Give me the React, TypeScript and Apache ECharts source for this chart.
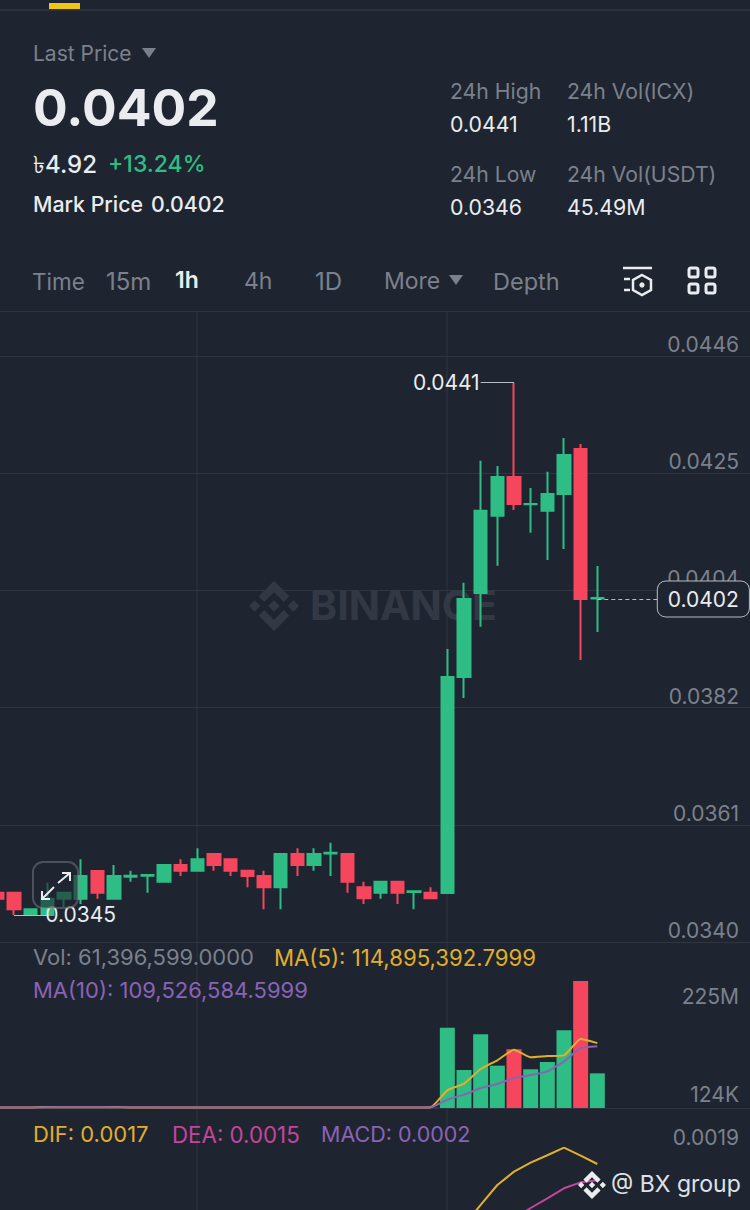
import React, { useEffect, useRef } from "react";
import * as echarts from "echarts";

const BG = "#1f2530";
const UP = "#2EBD85";
const DOWN = "#F6465D";
const GRIDLINE = "#30353f";
const MUTED = "#7b818c";
const LIGHT = "#eaecef";
const FONT = "Inter, 'Noto Sans', 'DejaVu Sans', sans-serif";

// [open, close, low, high]
const candles: number[][] = [
  [0.034894, 0.034785, 0.034785, 0.034894],
  [0.034894, 0.034593, 0.03449, 0.034894],
  [0.03449, 0.034593, 0.03449, 0.034593],
  [0.03449, 0.034785, 0.03449, 0.035075],
  [0.034785, 0.034894, 0.034635, 0.034894],
  [0.034785, 0.035197, 0.034689, 0.035499],
  [0.035287, 0.034894, 0.034785, 0.035287],
  [0.034785, 0.035197, 0.034785, 0.035396],
  [0.035185, 0.0352, 0.035093, 0.035293],
  [0.0352, 0.035215, 0.034894, 0.035215],
  [0.035093, 0.035396, 0.035093, 0.035396],
  [0.035396, 0.035293, 0.035197, 0.035499],
  [0.035293, 0.035499, 0.035293, 0.035699],
  [0.035596, 0.035396, 0.035293, 0.035596],
  [0.035499, 0.035293, 0.035197, 0.035499],
  [0.035293, 0.035197, 0.034992, 0.035293],
  [0.035197, 0.034992, 0.034593, 0.035293],
  [0.034992, 0.035596, 0.034593, 0.035596],
  [0.035596, 0.035396, 0.035197, 0.035699],
  [0.035396, 0.035596, 0.035293, 0.035699],
  [0.035605, 0.035619, 0.035197, 0.0358],
  [0.035596, 0.035093, 0.034894, 0.035596],
  [0.034992, 0.034792, 0.034689, 0.035093],
  [0.034894, 0.035093, 0.034785, 0.035093],
  [0.035093, 0.034894, 0.034689, 0.035093],
  [0.034905, 0.034919, 0.034593, 0.034919],
  [0.034894, 0.034792, 0.034792, 0.034992],
  [0.034888, 0.038805, 0.034888, 0.039312],
  [0.038805, 0.040219, 0.038424, 0.040515],
  [0.040328, 0.04182, 0.039717, 0.042727],
  [0.041729, 0.042431, 0.040823, 0.04263],
  [0.042431, 0.041942, 0.041833, 0.044141],
  [0.041935, 0.041942, 0.041421, 0.042232],
  [0.04182, 0.042123, 0.040926, 0.042527],
  [0.042123, 0.04283, 0.041126, 0.043138],
  [0.042939, 0.040219, 0.039113, 0.043029],
  [0.04023, 0.040237, 0.039621, 0.040817],
];

// millions
const volumes = [
  0.6, 0.9, 0.7, 3.2, 0.8, 1.1, 1.0, 0.9, 0.6, 0.5, 0.7, 0.5, 0.9, 0.6, 0.6, 0.5, 0.8, 1.2, 0.9, 0.7, 1.0, 0.8,
  0.6, 0.5, 0.5, 0.6, 0.5, 142.3, 67.3, 130.6, 75, 104, 68.6, 81.5, 137.7, 225, 61.4,
];
const ma5 = [
  1.1, 1.1, 1.1, 1.4, 1.4, 1.4, 1.4, 1.6, 1.0, 0.9, 0.9, 0.8, 0.8, 0.7, 0.7, 0.7, 0.7, 0.8, 0.9, 0.9, 1.0, 1.0,
  0.9, 0.8, 0.8, 0.7, 1.2, 31.3, 43.1, 69.1, 84.5, 103.4, 89.8, 92.1, 93.3, 122.3, 114.9,
];
const ma10 = [
  1.0, 1.0, 1.0, 1.2, 1.2, 1.2, 1.2, 1.3, 1.2, 1.2, 1.1, 1.0, 1.0, 0.9, 0.8, 0.8, 0.8, 0.8, 0.8, 0.8, 0.8, 0.8,
  0.8, 0.8, 0.8, 0.9, 1.0, 14.8, 23.6, 35.4, 42.5, 53.2, 58.5, 65, 82.7, 106.3, 109.5,
];

const macdStart = 28;
const dif = [0.00095, 0.001197, 0.001442, 0.001606, 0.001716, 0.001807, 0.0019, 0.001802, 0.0017];
const dea = [null, null, null, 0.001034, 0.00116, 0.001279, 0.001402, 0.001475, 0.0015];

const priceTicks = ["0.0340", "0.0361", "0.0382", "0.0404", "0.0425", "0.0446"];
const volumeTicks = ["124K", "225M"];
const macdTicks = ["", "0.0019"];

const categories = Array.from({ length: 46 }, (_, i) => String(i));
const highMark = { value: 0.044141, label: "0.0441", from: 29, to: 31 };
const lowMark = { value: 0.03449, label: "0.0345", from: 1, to: 3 };
const lastPrice = 0.040219;
const lastLabel = "0.0402";

const LOGO =
  "M38.73 53.2l24.59-24.58 24.6 24.6 14.3-14.31L63.32 0 24.42 38.9zM0 63.31l14.3-14.31 14.31 14.31-14.31 14.3zM38.73 73.41l24.59 24.59 24.6-24.6 14.31 14.29-38.9 38.91-38.91-38.88zM98 63.31l14.3-14.31 14.31 14.3-14.31 14.32zM77.83 63.3L63.32 48.78 52.59 59.51l-1.24 1.23-2.54 2.54 14.51 14.5 14.51-14.52z";
echarts.graphic.registerShape("binanceLogo", echarts.graphic.extendPath(LOGO, {}) as any);

function txt(x: number, y: number, text: string, fill: string, fontSize: number, fontWeight: any = 400, z = 1) {
  return {
    type: "text",
    x,
    y,
    z,
    silent: true,
    style: { text, fill, font: `${fontWeight} ${fontSize}px ${FONT}`, verticalAlign: "middle" },
  };
}
function seg(x1: number, y1: number, x2: number, y2: number, stroke: string, lineWidth = 1, z = 1) {
  return { type: "line", z, silent: true, shape: { x1, y1, x2, y2 }, style: { stroke, lineWidth } };
}
function tri(x: number, y: number, w: number, h: number, fill: string) {
  return {
    type: "polygon",
    silent: true,
    shape: { points: [[x, y], [x + w, y], [x + w / 2, y + h]] },
    style: { fill },
  };
}
function box(x: number, y: number, s: number) {
  return {
    type: "rect",
    silent: true,
    shape: { x, y, width: s, height: s, r: 2 },
    style: { fill: "none", stroke: LIGHT, lineWidth: 3 },
  };
}

export default function App() {
  const ref = useRef<HTMLDivElement>(null);
  useEffect(() => {
    document.body.style.margin = "0";
    document.body.style.background = BG;
    const chart = echarts.init(ref.current!, undefined, { renderer: "svg" });

    const axisLabelBase = {
      show: true,
      inside: true,
      margin: 16.67,
      color: MUTED,
      fontSize: 21,
      fontFamily: FONT,
    };
    const volColors = candles.map((c) => (c[1] >= c[0] ? UP : DOWN));
    const macdPad = (arr: (number | null)[]) => [...Array(macdStart).fill(null), ...arr];
    const gridBase = { left: -11, width: 766.67, outerBoundsMode: "none", containLabel: false };

    const option: any = {
      animation: false,
      backgroundColor: BG,
      textStyle: { fontFamily: FONT },
      grid: [
        { ...gridBase, top: 356, height: 586 },
        { ...gridBase, top: 981, height: 127 },
        { ...gridBase, top: 1147.7, height: 77.4 },
      ],
      xAxis: [0, 1, 2].map((g) => ({
        type: "category",
        gridIndex: g,
        data: categories,
        boundaryGap: true,
        axisLabel: { show: false },
        axisTick: { show: false },
        splitLine: { show: false },
        axisLine: { show: g === 1, lineStyle: { color: GRIDLINE, width: 1 } },
      })),
      yAxis: [
        {
          type: "value",
          gridIndex: 0,
          position: "right",
          min: 0.034,
          max: 0.044625,
          interval: 0.002125,
          axisLine: { show: false },
          axisTick: { show: false },
          splitLine: { show: true, lineStyle: { color: GRIDLINE, width: 1 } },
          axisLabel: {
            ...axisLabelBase,
            verticalAlign: "bottom",
            padding: [0, 0, 1, 0],
            formatter: (_v: number, i: number) => priceTicks[i] ?? "",
          },
        },
        {
          type: "value",
          gridIndex: 1,
          position: "right",
          min: 0,
          max: 225,
          interval: 225,
          axisLine: { show: false },
          axisTick: { show: false },
          splitLine: { show: false },
          axisLabel: {
            ...axisLabelBase,
            verticalAlign: "bottom",
            verticalAlignMaxLabel: "top",
            padding: [5, 0, 3, 0],
            formatter: (_v: number, i: number) => volumeTicks[i] ?? "",
          },
        },
        {
          type: "value",
          gridIndex: 2,
          position: "right",
          min: 0.00095,
          max: 0.0019,
          interval: 0.00095,
          axisLine: { show: false },
          axisTick: { show: false },
          splitLine: { show: false },
          axisLabel: {
            ...axisLabelBase,
            verticalAlign: "bottom",
            showMinLabel: false,
            formatter: (_v: number, i: number) => macdTicks[i] ?? "",
          },
        },
      ],
      series: [
        {
          type: "candlestick",
          xAxisIndex: 0,
          yAxisIndex: 0,
          z: 2,
          barWidth: 13,
          data: candles,
          itemStyle: { color: UP, color0: DOWN, borderColor: UP, borderColor0: DOWN, borderWidth: 2 },
          markLine: {
            silent: true,
            symbol: "none",
            precision: 6,
            animation: false,
            data: [
              [
                {
                  coord: [highMark.from, highMark.value],
                  lineStyle: { color: "#b7bdc6", width: 1, type: "solid" },
                  label: {
                    show: true,
                    position: "start",
                    distance: 1,
                    formatter: highMark.label,
                    color: LIGHT,
                    fontSize: 21,
                    fontFamily: FONT,
                  },
                },
                { coord: [highMark.to, highMark.value] },
              ],
              [
                {
                  coord: [lowMark.from, lowMark.value],
                  lineStyle: { color: "#b7bdc6", width: 1, type: "solid" },
                  label: {
                    show: true,
                    position: "end",
                    distance: -2,
                    formatter: lowMark.label,
                    color: LIGHT,
                    fontSize: 21,
                    fontFamily: FONT,
                  },
                },
                { coord: [lowMark.to, lowMark.value] },
              ],
              [
                {
                  coord: [36, lastPrice],
                  lineStyle: { color: "#b7bdc6", width: 1, type: [4, 3] },
                  label: { show: false },
                },
                { coord: [40, lastPrice] },
              ],
            ],
          },
          markPoint: {
            silent: true,
            z: 20,
            symbol: "circle",
            symbolSize: 1,
            itemStyle: { color: "transparent" },
            animation: false,
            data: [
              {
                coord: [42, lastPrice],
                label: {
                  show: true,
                  position: "inside",
                  offset: [6, 0],
                  formatter: lastLabel,
                  color: LIGHT,
                  fontSize: 21,
                  fontFamily: FONT,
                  backgroundColor: BG,
                  borderColor: "#b7bdc6",
                  borderWidth: 1,
                  borderRadius: 8,
                  padding: [7, 10, 7, 10],
                },
              },
            ],
          },
        },
        {
          type: "bar",
          xAxisIndex: 1,
          yAxisIndex: 1,
          z: 2,
          barWidth: 15,
          data: volumes.map((v, i) => ({ value: v, itemStyle: { color: volColors[i] } })),
        },
        {
          type: "line",
          name: "MA5",
          xAxisIndex: 1,
          yAxisIndex: 1,
          z: 3,
          data: ma5,
          showSymbol: false,
          smooth: 0.15,
          lineStyle: { color: "#E0B02C", width: 2 },
        },
        {
          type: "line",
          name: "MA10",
          xAxisIndex: 1,
          yAxisIndex: 1,
          z: 4,
          data: ma10,
          showSymbol: false,
          smooth: 0.15,
          lineStyle: { color: "#8a63b5", width: 2 },
        },
        {
          type: "line",
          name: "DIF",
          xAxisIndex: 2,
          yAxisIndex: 2,
          z: 3,
          data: macdPad(dif),
          showSymbol: false,
          lineStyle: { color: "#E0B02C", width: 2 },
        },
        {
          type: "line",
          name: "DEA",
          xAxisIndex: 2,
          yAxisIndex: 2,
          z: 3,
          data: macdPad(dea),
          showSymbol: false,
          lineStyle: { color: "#C2469E", width: 2 },
        },
      ],
      graphic: {
        elements: [
          { type: "rect", silent: true, shape: { x: 49, y: 3, width: 31, height: 6 }, style: { fill: "#F0C419" } },
          seg(0, 10, 750, 10, GRIDLINE, 1.5),
          seg(0, 311.5, 750, 311.5, GRIDLINE, 1),
          seg(197, 312, 197, 1210, GRIDLINE, 1, 0),
          seg(447, 312, 447, 1210, GRIDLINE, 1, 0),

          txt(33, 53, "Last Price", MUTED, 21),
          tri(142, 48, 14, 10, MUTED),
          txt(33, 107, "0.0402", LIGHT, 51.5, 700),
          txt(33, 164, "৳4.92", LIGHT, 24, 500),
          txt(108, 164, "+13.24%", UP, 23, 500),
          txt(33, 204, "Mark Price", LIGHT, 21.3, 500),
          txt(151, 204, "0.0402", LIGHT, 21.3, 500),

          txt(450, 91, "24h High", MUTED, 21.2),
          txt(567, 91, "24h Vol(ICX)", MUTED, 21.2),
          txt(450, 124, "0.0441", LIGHT, 21.3),
          txt(567, 124, "1.11B", LIGHT, 21.3),
          txt(450, 174, "24h Low", MUTED, 21.2),
          txt(567, 174, "24h Vol(USDT)", MUTED, 21.2),
          txt(450, 207, "0.0346", LIGHT, 21.3),
          txt(567, 207, "45.49M", LIGHT, 21.3),

          txt(32, 281, "Time", MUTED, 22.5),
          txt(106, 281, "15m", MUTED, 24),
          txt(175, 280, "1h", LIGHT, 23, 600),
          txt(244, 281, "4h", MUTED, 23),
          txt(315, 281, "1D", MUTED, 24),
          txt(384, 281, "More", MUTED, 23),
          tri(449, 275, 14, 10, MUTED),
          txt(493, 281, "Depth", MUTED, 23.5),

          seg(623, 268, 652, 268, LIGHT, 2.5),
          seg(624, 279, 630, 279, LIGHT, 2.5),
          seg(624, 290, 630, 290, LIGHT, 2.5),
          {
            type: "polygon",
            silent: true,
            shape: { points: [[642, 275], [651, 280], [651, 290], [642, 295], [633, 290], [633, 280]] },
            style: { fill: "none", stroke: LIGHT, lineWidth: 2.5 },
          },
          { type: "circle", silent: true, shape: { cx: 642, cy: 285, r: 2.6 }, style: { fill: LIGHT } },
          box(689, 268, 9),
          box(706, 268, 9),
          box(689, 284, 9),
          box(706, 284, 9),

          txt(33, 957, "Vol: 61,396,599.0000", MUTED, 22),
          txt(274, 957, "MA(5): 114,895,392.7999", "#E0B02C", 22.2),
          txt(33, 990, "MA(10): 109,526,584.5999", "#8a63b5", 22),
          txt(33, 1134, "DIF: 0.0017", "#E0B02C", 22),
          txt(172, 1134, "DEA: 0.0015", "#C2469E", 22.3),
          txt(321, 1134, "MACD: 0.0002", "#8a63b5", 21.5),

          // watermark
          { type: "binanceLogo", silent: true, z: 1, x: 249, y: 581, scaleX: 50 / 126.61, scaleY: 50 / 126.61, style: { fill: "#333944" } },
          txt(310, 605, "BINANCE", "#333944", 41, 700),

          // expand button
          {
            type: "rect",
            silent: true,
            z: 30,
            shape: { x: 33, y: 862, width: 45, height: 46, r: 10 },
            style: { fill: "rgba(31,37,48,0.62)", stroke: "rgba(130,135,145,0.45)", lineWidth: 2 },
          },
          seg(58, 883, 70, 873, LIGHT, 2, 31),
          { type: "polyline", silent: true, z: 31, shape: { points: [[62, 873], [70, 873], [70, 881]] }, style: { stroke: LIGHT, lineWidth: 2, fill: "none" } },
          seg(54, 887, 42, 899, LIGHT, 2, 31),
          { type: "polyline", silent: true, z: 31, shape: { points: [[42, 891], [42, 899], [50, 899]] }, style: { stroke: LIGHT, lineWidth: 2, fill: "none" } },

          // share watermark
          { type: "binanceLogo", silent: true, z: 40, x: 578, y: 1171, scaleX: 28 / 126.61, scaleY: 28 / 126.61, style: { fill: LIGHT } },
          txt(611, 1184, "@ BX group", "#dfe2e6", 23, 400, 40),
        ],
      },
    };
    chart.setOption(option);
    return () => chart.dispose();
  }, []);
  return <div ref={ref} style={{ position: "absolute", left: 0, top: 0, width: 750, height: 1210 }} />;
}
